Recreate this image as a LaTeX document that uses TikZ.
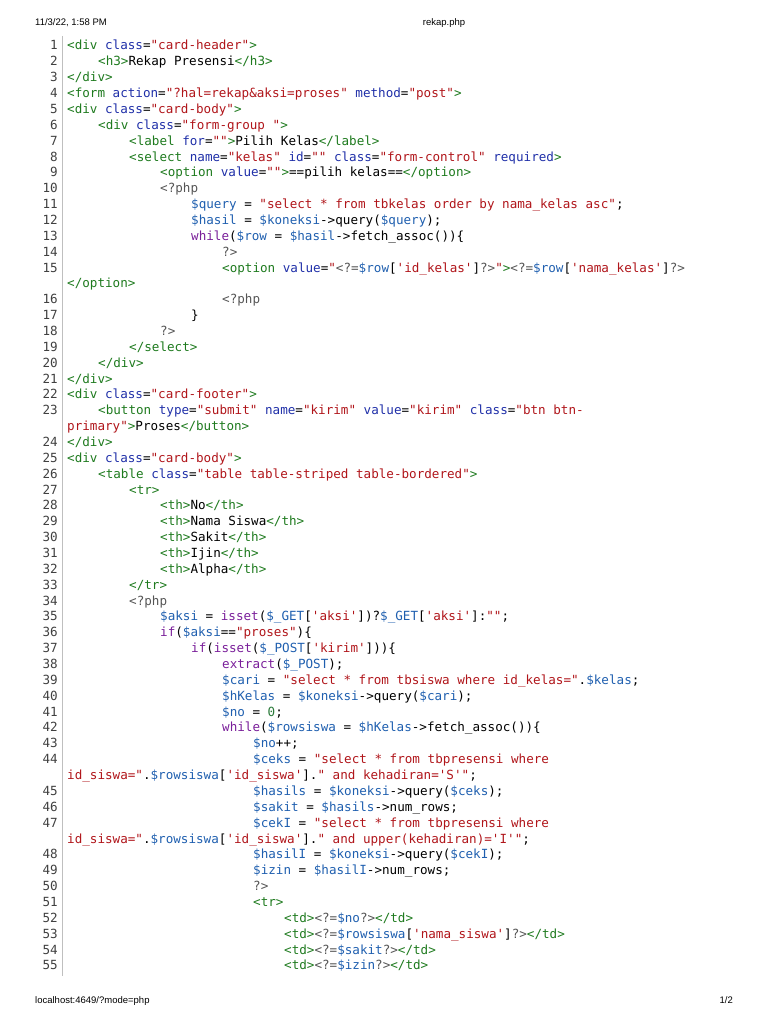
\documentclass[tikz,border=0pt]{standalone}
\usepackage{fontspec}
\setmainfont{Liberation Sans}
\newfontfamily\code{DejaVu Sans Mono}
\definecolor{tagc}{HTML}{1E7A1E}
\definecolor{attc}{HTML}{1F2FA8}
\definecolor{strc}{HTML}{B0151A}
\definecolor{varc}{HTML}{1F5FAF}
\definecolor{kwc}{HTML}{7A1F9A}
\definecolor{phpc}{HTML}{555555}
\definecolor{numc}{HTML}{2A7A3A}
\def\T#1{\textcolor{tagc}{#1}}
\def\A#1{\textcolor{attc}{#1}}
\def\Sq#1{\textcolor{strc}{#1}}
\def\V#1{\textcolor{varc}{#1}}
\def\K#1{\textcolor{kwc}{#1}}
\def\P#1{\textcolor{phpc}{#1}}
\def\N#1{\textcolor{numc}{#1}}
\tikzset{codeline/.style={anchor=base west,inner sep=0pt,font=\code\fontsize{12.6}{15}\selectfont},
 lnum/.style={anchor=base east,inner sep=0pt,text=black!75,font=\code\fontsize{12.6}{15}\selectfont},
 hdr/.style={inner sep=0pt,font=\fontsize{9.5}{11}\selectfont}}
\def\Ln#1#2#3#4{%
 \node[codeline] (c#1) at ({67pt+7.75pt*#3},{-50pt-15.86pt*#1}) {#4};
 \ifx\relax#2\relax\else\node[lnum] (n#1) at ({58pt},{-50pt-15.86pt*#1}) {#2};\fi}
\begin{document}
\begin{tikzpicture}[x=1pt,y=1pt]
\useasboundingbox (0,0) rectangle (768,-1024);
\node[hdr,anchor=base west] (date) at (35,-26) {11/3/22, 1:58 PM};
\node[hdr,anchor=base] (title) at (444,-26) {rekap.php};
\node[hdr,anchor=base west] (url) at (35,-1003) {localhost:4649/?mode=php};
\node[hdr,anchor=base east] (page) at (733,-1003) {1/2};
\draw[black!25,line width=0.8pt] (62,-36) -- (62,-976);
\Ln{0}{1}{0}{\T{<div} \A{class}=\Sq{"card-header"}\T{>}}
\Ln{1}{2}{4}{\T{<h3>}Rekap Presensi\T{</h3>}}
\Ln{2}{3}{0}{\T{</div>}}
\Ln{3}{4}{0}{\T{<form} \A{action}=\Sq{"?hal=rekap\&aksi=proses"} \A{method}=\Sq{"post"}\T{>}}
\Ln{4}{5}{0}{\T{<div} \A{class}=\Sq{"card-body"}\T{>}}
\Ln{5}{6}{4}{\T{<div} \A{class}=\Sq{"form-group "}\T{>}}
\Ln{6}{7}{8}{\T{<label} \A{for}=\Sq{""}\T{>}Pilih Kelas\T{</label>}}
\Ln{7}{8}{8}{\T{<select} \A{name}=\Sq{"kelas"} \A{id}=\Sq{""} \A{class}=\Sq{"form-control"} \A{required}\T{>}}
\Ln{8}{9}{12}{\T{<option} \A{value}=\Sq{""}\T{>}==pilih kelas==\T{</option>}}
\Ln{9}{10}{12}{\P{<?php}}
\Ln{10}{11}{16}{\V{\$query} = \Sq{"select * from tbkelas order by nama\_kelas asc"};}
\Ln{11}{12}{16}{\V{\$hasil} = \V{\$koneksi}->query(\V{\$query});}
\Ln{12}{13}{16}{\K{while}(\V{\$row} = \V{\$hasil}->fetch\_assoc())\{}
\Ln{13}{14}{20}{\P{?>}}
\Ln{14}{15}{20}{\T{<option} \A{value}=\Sq{"}\P{<?=}\V{\$row}[\Sq{'id\_kelas'}]\P{?>}\Sq{"}\T{>}\P{<?=}\V{\$row}[\Sq{'nama\_kelas'}]\P{?>}}
\Ln{15}{}{0}{\T{</option>}}
\Ln{16}{16}{20}{\P{<?php}}
\Ln{17}{17}{16}{\}}
\Ln{18}{18}{12}{\P{?>}}
\Ln{19}{19}{8}{\T{</select>}}
\Ln{20}{20}{4}{\T{</div>}}
\Ln{21}{21}{0}{\T{</div>}}
\Ln{22}{22}{0}{\T{<div} \A{class}=\Sq{"card-footer"}\T{>}}
\Ln{23}{23}{4}{\T{<button} \A{type}=\Sq{"submit"} \A{name}=\Sq{"kirim"} \A{value}=\Sq{"kirim"} \A{class}=\Sq{"btn btn-}}
\Ln{24}{}{0}{\Sq{primary"}\T{>}Proses\T{</button>}}
\Ln{25}{24}{0}{\T{</div>}}
\Ln{26}{25}{0}{\T{<div} \A{class}=\Sq{"card-body"}\T{>}}
\Ln{27}{26}{4}{\T{<table} \A{class}=\Sq{"table table-striped table-bordered"}\T{>}}
\Ln{28}{27}{8}{\T{<tr>}}
\Ln{29}{28}{12}{\T{<th>}No\T{</th>}}
\Ln{30}{29}{12}{\T{<th>}Nama Siswa\T{</th>}}
\Ln{31}{30}{12}{\T{<th>}Sakit\T{</th>}}
\Ln{32}{31}{12}{\T{<th>}Ijin\T{</th>}}
\Ln{33}{32}{12}{\T{<th>}Alpha\T{</th>}}
\Ln{34}{33}{8}{\T{</tr>}}
\Ln{35}{34}{8}{\P{<?php}}
\Ln{36}{35}{12}{\V{\$aksi} = \K{isset}(\V{\$\_GET}[\Sq{'aksi'}])?\V{\$\_GET}[\Sq{'aksi'}]:\Sq{""};}
\Ln{37}{36}{12}{\K{if}(\V{\$aksi}==\Sq{"proses"})\{}
\Ln{38}{37}{16}{\K{if}(\K{isset}(\V{\$\_POST}[\Sq{'kirim'}]))\{}
\Ln{39}{38}{20}{\K{extract}(\V{\$\_POST});}
\Ln{40}{39}{20}{\V{\$cari} = \Sq{"select * from tbsiswa where id\_kelas="}.\V{\$kelas};}
\Ln{41}{40}{20}{\V{\$hKelas} = \V{\$koneksi}->query(\V{\$cari});}
\Ln{42}{41}{20}{\V{\$no} = \N{0};}
\Ln{43}{42}{20}{\K{while}(\V{\$rowsiswa} = \V{\$hKelas}->fetch\_assoc())\{}
\Ln{44}{43}{24}{\V{\$no}++;}
\Ln{45}{44}{24}{\V{\$ceks} = \Sq{"select * from tbpresensi where}}
\Ln{46}{}{0}{\Sq{id\_siswa="}.\V{\$rowsiswa}[\Sq{'id\_siswa'}].\Sq{" and kehadiran='S'"};}
\Ln{47}{45}{24}{\V{\$hasils} = \V{\$koneksi}->query(\V{\$ceks});}
\Ln{48}{46}{24}{\V{\$sakit} = \V{\$hasils}->num\_rows;}
\Ln{49}{47}{24}{\V{\$cekI} = \Sq{"select * from tbpresensi where}}
\Ln{50}{}{0}{\Sq{id\_siswa="}.\V{\$rowsiswa}[\Sq{'id\_siswa'}].\Sq{" and upper(kehadiran)='I'"};}
\Ln{51}{48}{24}{\V{\$hasilI} = \V{\$koneksi}->query(\V{\$cekI});}
\Ln{52}{49}{24}{\V{\$izin} = \V{\$hasilI}->num\_rows;}
\Ln{53}{50}{24}{\P{?>}}
\Ln{54}{51}{24}{\T{<tr>}}
\Ln{55}{52}{28}{\T{<td>}\P{<?=}\V{\$no}\P{?>}\T{</td>}}
\Ln{56}{53}{28}{\T{<td>}\P{<?=}\V{\$rowsiswa}[\Sq{'nama\_siswa'}]\P{?>}\T{</td>}}
\Ln{57}{54}{28}{\T{<td>}\P{<?=}\V{\$sakit}\P{?>}\T{</td>}}
\Ln{58}{55}{28}{\T{<td>}\P{<?=}\V{\$izin}\P{?>}\T{</td>}}
\end{tikzpicture}
\end{document}
